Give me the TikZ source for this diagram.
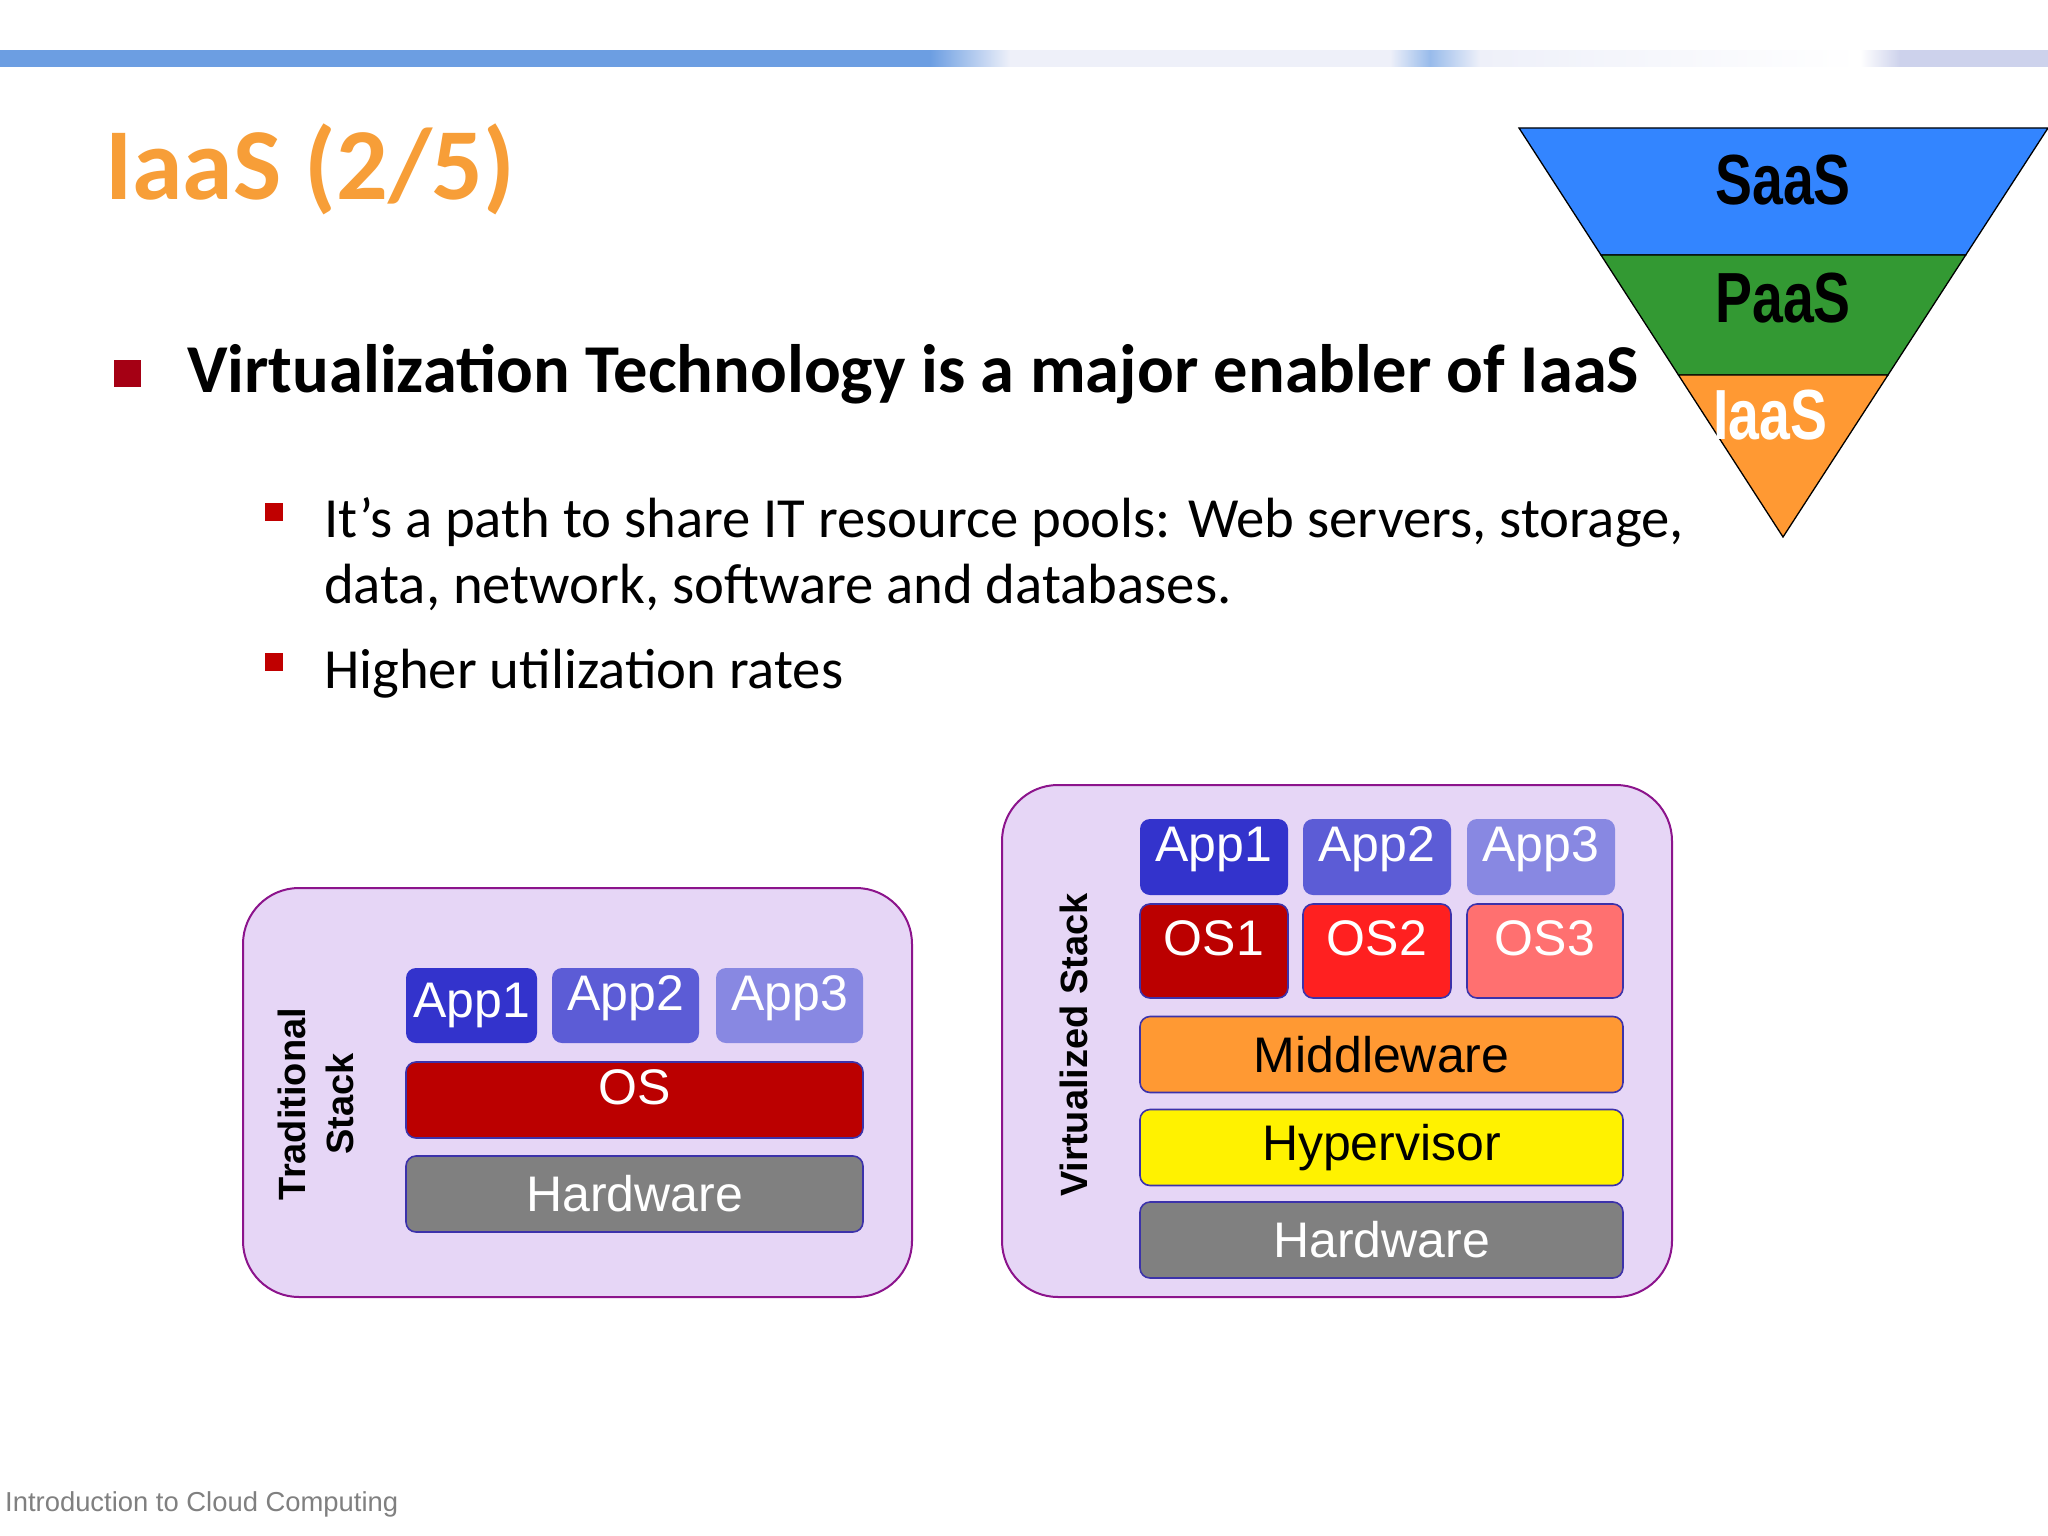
\documentclass[tikz,border=0pt]{standalone}
\usepackage{fontspec}
\setmainfont{Carlito}
\newfontfamily\arialfont{Liberation Sans}
\usepackage{xcolor}
\usetikzlibrary{
    positioning,
    calc
}
\definecolor{titleorange}{RGB}{247,158,56}
\definecolor{bulletred}{RGB}{165,0,20}
\definecolor{subred}{RGB}{192,0,0}
\definecolor{barblue}{RGB}{108,158,226}
\definecolor{barpale}{RGB}{238,240,249}
\definecolor{barlav}{RGB}{205,210,236}
\definecolor{saasblue}{RGB}{51,133,255}
\definecolor{paasgreen}{RGB}{51,153,51}
\definecolor{iaasorange}{RGB}{255,153,51}
\definecolor{stackfill}{RGB}{230,214,246}
\definecolor{stackline}{RGB}{140,20,140}
\definecolor{layerline}{RGB}{60,50,170}
\definecolor{appone}{RGB}{51,51,204}
\definecolor{apptwo}{RGB}{92,92,214}
\definecolor{appthree}{RGB}{136,136,226}
\definecolor{osone}{RGB}{187,0,0}
\definecolor{ostwo}{RGB}{255,32,32}
\definecolor{osthree}{RGB}{255,112,112}
\definecolor{midorange}{RGB}{255,153,51}
\definecolor{hwgray}{RGB}{128,128,128}
\definecolor{footgray}{RGB}{128,128,128}
\tikzset{
    stackbox/.style={
        draw=stackline,
        fill=stackfill,
        line width=2pt,
        rounded corners=56pt,
        inner sep=0pt
    }
}
\tikzset{
    layer/.style={
        draw=layerline,
        line width=1.6pt,
        rounded corners=10pt,
        inner sep=0pt,
        minimum height=76pt,
        text=white,
        font=\arialfont\fontsize{50}{60}\selectfont
    }
}
\tikzset{
    appbox/.style={
        layer,
        draw=none
    }
}
\tikzset{
    raised/.style={
        text depth=25pt
    }
}
\tikzset{
    stacklabel/.style={
        rotate=90,
        align=center,
        font=\arialfont\bfseries\fontsize{38}{48}\selectfont
    }
}
\tikzset{
    band/.style={
        draw=black,
        line width=1.3pt
    }
}
\tikzset{
    bandlabel/.style={
        xscale=0.78,
        font=\arialfont\bfseries\fontsize{71}{80}\selectfont
    }
}
\tikzset{
    bulletsq/.style={
        inner sep=0pt,
        anchor=north west
    }
}
\tikzset{
    slidetext/.style={
        anchor=base west,
        inner sep=0pt
    }
}

\begin{document}
\begin{tikzpicture}[
    x=1pt,
    y=-1pt
]
\useasboundingbox (0,0) rectangle (2048,1536);
\fill[white] (0,0) rectangle (2048,1536);

% ------------------------------------------------------------
% Header bar
% ------------------------------------------------------------

\foreach \xa/\xb/\ca/\cb in {
    0/930/barblue/barblue,
    930/1010/barblue/barpale,
    1010/1390/barpale/barpale,
    1390/1430/barpale/barblue!70,
    1430/1480/barblue!70/barpale,
    1480/1860/barpale/white,
    1860/1900/white/barlav,
    1900/2048/barlav/barlav} {
    \shade[left color=\ca, right color=\cb] (\xa,51) rectangle (\xb,67);
}

% ------------------------------------------------------------
% Title and bullets
% ------------------------------------------------------------

\node[slidetext, text=titleorange, font=\bfseries\fontsize{102}{120}\selectfont]
    (title) at (105,199) {IaaS (2/5)};

\node[bulletsq, fill=bulletred, minimum size=27pt] (b1) at (114,360) {};
\node[slidetext, font=\bfseries\fontsize{68.5}{80}\selectfont] (line1) at (187,392)
    {Virtualization Technology is a major enabler of IaaS};

\node[bulletsq, fill=subred, minimum size=18pt] (b2) at (265,503) {};
\node[slidetext, font=\fontsize{56.7}{66}\selectfont] (line2) at (324,537)
    {It’s a path to share IT resource pools: Web servers, storage,};
\node[slidetext, font=\fontsize{56.7}{66}\selectfont] (line2b) at (324,603)
    {data, network, software and databases.};

\node[bulletsq, fill=subred, minimum size=18pt] (b3) at (265,653) {};
\node[slidetext, font=\fontsize{56.7}{66}\selectfont] (line3) at (324,688)
    {Higher utilization rates};

% ------------------------------------------------------------
% Service triangle
% ------------------------------------------------------------

\coordinate (tl) at (1519,128);
\coordinate (tr) at (2048,128);
\coordinate (apex) at (1783,537);
\coordinate (ml) at ($(tl)!0.3105!(apex)$);
\coordinate (mr) at ($(tr)!0.3105!(apex)$);
\coordinate (ll) at ($(tl)!0.6039!(apex)$);
\coordinate (lr) at ($(tr)!0.6039!(apex)$);

\draw[band, fill=saasblue] (tl) -- (tr) -- (mr) -- (ml) -- cycle;
\draw[band, fill=paasgreen] (ml) -- (mr) -- (lr) -- (ll) -- cycle;
\draw[band, fill=iaasorange] (ll) -- (lr) -- (apex) -- cycle;

\node[bandlabel] (saas) at (1783,180) {SaaS};
\node[bandlabel] (paas) at (1783,298) {PaaS};
\node[bandlabel, text=white] (iaas) at (1770,415) {IaaS};

% ------------------------------------------------------------
% Traditional stack
% ------------------------------------------------------------

\node[stackbox, minimum width=669pt, minimum height=409pt] (trad) at (577.5,1092.5) {};
\node[stacklabel] (tradlabel) at (316,1104) {Traditional\\Stack};

\node[appbox, fill=appone, minimum width=131pt, minimum height=75pt] (tapp1) at (471.5,1005.5) {App1};
\node[appbox, raised, fill=apptwo, minimum width=147pt, minimum height=75pt] (tapp2) at (625.5,1005.5) {App2};
\node[appbox, raised, fill=appthree, minimum width=147pt, minimum height=75pt] (tapp3) at (789.5,1005.5) {App3};
\node[layer, raised, fill=osone, minimum width=457pt] (tos) at (634.5,1100) {OS};
\node[layer, fill=hwgray, minimum width=457pt] (thw) at (634.5,1194) {Hardware};

% ------------------------------------------------------------
% Virtualized stack
% ------------------------------------------------------------

\node[stackbox, minimum width=670pt, minimum height=512pt] (virt) at (1337,1041) {};
\node[stacklabel] (virtlabel) at (1074,1045) {Virtualized Stack};

\node[appbox, raised, fill=appone, minimum width=148pt] (vapp1) at (1214,857) {App1};
\node[appbox, raised, fill=apptwo, minimum width=148pt] (vapp2) at (1377,857) {App2};
\node[appbox, raised, fill=appthree, minimum width=148pt] (vapp3) at (1541,857) {App3};

\node[layer, raised, fill=osone, minimum width=148pt, minimum height=94pt] (vos1) at (1214,951) {OS1};
\node[layer, raised, fill=ostwo, minimum width=148pt, minimum height=94pt] (vos2) at (1377,951) {OS2};
\node[layer, raised, fill=osthree, minimum width=156pt, minimum height=94pt] (vos3) at (1545,951) {OS3};

\node[layer, fill=midorange, text=black, minimum width=483pt] (vmid) at (1381.5,1054.5) {Middleware};
\node[layer, fill=yellow, text=black, minimum width=483pt] (vhyp) at (1381.5,1147.5) {Hypervisor};
\node[layer, fill=hwgray, minimum width=483pt] (vhw) at (1381.5,1240) {Hardware};

% ------------------------------------------------------------
% Footer
% ------------------------------------------------------------

\node[slidetext, text=footgray, font=\arialfont\fontsize{27.4}{32}\selectfont]
    (footer) at (5,1511) {Introduction to Cloud Computing};

\end{tikzpicture}
\end{document}
